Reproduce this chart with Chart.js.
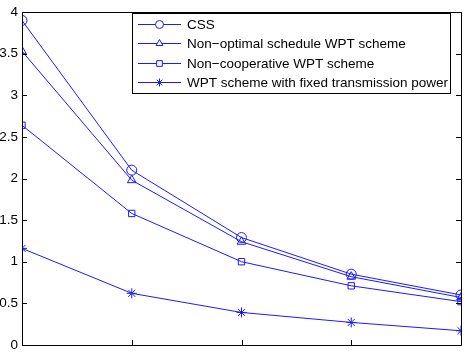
<!DOCTYPE html>
<html>
<head>
<meta charset="utf-8">
<script src="https://cdn.jsdelivr.net/npm/chart.js@4.4.1/dist/chart.umd.min.js"></script>
<style>
html,body{margin:0;padding:0;background:#fff;}
#wrap{width:467px;height:357px;position:relative;}
</style>
</head>
<body>
<div id="wrap"><canvas id="c" width="467" height="357"></canvas></div>
<script>
const xValues = [1, 2, 3, 4, 5];
const seriesNames = [
  "CSS",
  "Non\u2212optimal schedule WPT scheme",
  "Non\u2212cooperative WPT scheme",
  "WPT scheme with fixed transmission power"
];
const cssValues = [3.90, 2.10, 1.29, 0.85, 0.60];
const nonOptimalValues = [3.53, 1.98, 1.24, 0.82, 0.57];
const nonCoopValues = [2.64, 1.58, 1.00, 0.71, 0.52];
const fixedPowerValues = [1.16, 0.62, 0.39, 0.27, 0.17];
const yTicks = [0, 0.5, 1, 1.5, 2, 2.5, 3, 3.5, 4];

const BLUE = '#1a1aff';
const FONT = '"Liberation Sans", Arial, Helvetica, sans-serif';

function toPts(vals){ return vals.map((v,i)=>({x:xValues[i], y:v})); }
const styles = ['circle','triangle','rect','star'];
const radii = [5,5,4.5,5];
const allSeries = [cssValues, nonOptimalValues, nonCoopValues, fixedPowerValues];

const datasets = allSeries.map((vals,i)=>({
  label: seriesNames[i],
  data: toPts(vals),
  borderColor: BLUE,
  backgroundColor: 'rgba(0,0,0,0)',
  borderWidth: 1,
  pointStyle: styles[i],
  pointRadius: radii[i],
  pointBorderColor: BLUE,
  pointBackgroundColor: 'rgba(0,0,0,0)',
  pointBorderWidth: 1,
  tension: 0,
  fill: false
}));

const boxPlugin = {
  id: 'box',
  afterDraw(chart){
    const ctx = chart.ctx, a = chart.chartArea;
    const xs = chart.scales.x, ys = chart.scales.y;
    ctx.save();
    ctx.strokeStyle = '#000';
    ctx.lineWidth = 1;
    ctx.beginPath();
    ctx.rect(Math.round(a.left)+0.5, Math.round(a.top)+0.5, Math.round(a.right-a.left), Math.round(a.bottom-a.top));
    ctx.stroke();
    const tl = 5;
    ctx.beginPath();
    yTicks.forEach(v=>{
      const y = Math.round(ys.getPixelForValue(v))+0.5;
      ctx.moveTo(a.left, y); ctx.lineTo(a.left+tl, y);
      ctx.moveTo(a.right, y); ctx.lineTo(a.right-tl, y);
    });
    xValues.forEach(v=>{
      const x = Math.round(xs.getPixelForValue(v))+0.5;
      ctx.moveTo(x, a.bottom); ctx.lineTo(x, a.bottom-tl);
      ctx.moveTo(x, a.top); ctx.lineTo(x, a.top+tl);
    });
    ctx.stroke();

    // legend
    const lx = 132.5, ly = 13.5, lw = 318, lh = 80;
    ctx.fillStyle = '#fff';
    ctx.fillRect(lx, ly, lw, lh);
    ctx.strokeStyle = '#000';
    ctx.strokeRect(lx, ly, lw, lh);
    ctx.font = '13.5px ' + FONT;
    ctx.textBaseline = 'middle';
    ctx.textAlign = 'left';
    chart.data.datasets.forEach((ds,i)=>{
      const y = 24 + i*19.4;
      ctx.strokeStyle = BLUE;
      ctx.lineWidth = 1;
      ctx.beginPath();
      ctx.moveTo(138, Math.round(y)+0.5); ctx.lineTo(181, Math.round(y)+0.5);
      ctx.stroke();
      ctx.fillStyle = '#fff';
      Chart.helpers.drawPoint(ctx, {pointStyle: ds.pointStyle, radius: 4, borderWidth: 1, rotation: 0}, 159.5, Math.round(y)+0.5);
      ctx.fillStyle = '#000';
      ctx.fillText(ds.label, 187, y+1);
    });
    ctx.restore();
  }
};

new Chart(document.getElementById('c'), {
  type: 'line',
  data: { datasets },
  options: {
    responsive: false,
    animation: false,
    devicePixelRatio: 1,
    layout: { padding: { top: 5, right: 5, left: 0, bottom: 0 } },
    plugins: { legend: { display: false }, tooltip: { enabled: false } },
    scales: {
      x: {
        type: 'linear', min: 1, max: 5,
        grid: { display: false, drawTicks: false },
        border: { display: false },
        ticks: { display: false },
        afterFit(s){ s.height = 6; }
      },
      y: {
        type: 'linear', min: 0, max: 4,
        grid: { display: false, drawTicks: false },
        border: { display: false },
        ticks: { stepSize: 0.5, color: '#000', padding: 4, font: { family: FONT, size: 13.5 },
          callback: v => String(v) },
        afterFit(s){ s.width = 22; }
      }
    }
  },
  plugins: [boxPlugin]
});
</script>
</body>
</html>
